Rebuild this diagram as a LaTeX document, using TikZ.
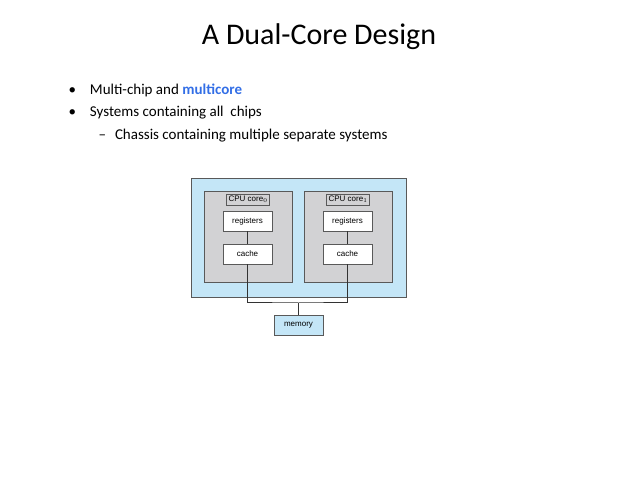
\documentclass[tikz,border=0pt]{standalone}
\usepackage{fontspec}
\setmainfont{Carlito}
\newfontfamily\diagfont{Liberation Sans}
\definecolor{chipblue}{RGB}{196,230,247}
\definecolor{coregray}{RGB}{210,210,212}
\definecolor{kwblue}{RGB}{50,110,230}
\tikzset{
  box/.style={draw=gray!70!black,line width=0.5pt,inner sep=0pt,font=\diagfont\fontsize{8}{9}\selectfont},
  unit/.style={box,fill=white,minimum width=49pt,minimum height=20pt},
  wire/.style={line width=1pt,black!80}
}
\begin{document}
\begin{tikzpicture}[x=1pt,y=-1pt]
  \useasboundingbox (0,0) rectangle (638,478);
  % slide text
  \node (title) at (319,37) {\fontsize{30}{34}\selectfont A Dual-Core Design};
  \node[anchor=west] (b1) at (65,90) {\fontsize{15}{18}\selectfont\textbullet\hspace{14pt}Multi-chip and \textcolor{kwblue}{\textbf{multicore}}};
  \node[anchor=west] (b2) at (65,113) {\fontsize{15}{18}\selectfont\textbullet\hspace{14pt}Systems containing all\ \ chips};
  \node[anchor=west] (b3) at (95,136) {\fontsize{15}{18}\selectfont --\hspace{9pt}Chassis containing multiple separate systems};
  % chip
  \node[box,fill=chipblue,minimum width=215pt,minimum height=119pt] (chip) at (298.5,237.5) {};
  \foreach \i/\cx in {0/248,1/348} {
    \node[box,fill=coregray,minimum width=88pt,minimum height=91pt] (core\i) at (\cx,236.5) {};
    \node[box,anchor=north,inner sep=2pt] (lab\i) at (\cx,194) {CPU core$_\i$};
    \node[unit] (reg\i) at (\cx-0.5,221) {registers};
    \node[unit] (cache\i) at (\cx-0.5,254) {cache};
    \draw[wire] (reg\i) -- (cache\i);
  }
  \node[unit,fill=chipblue] (mem) at (298.5,325.5) {memory};
  \coordinate (bus) at (298.5,303);
  \draw[wire] (cache0.south) |- (bus) -| (cache1.south);
  \draw[wire] (bus) -- (mem.north);
\end{tikzpicture}
\end{document}
